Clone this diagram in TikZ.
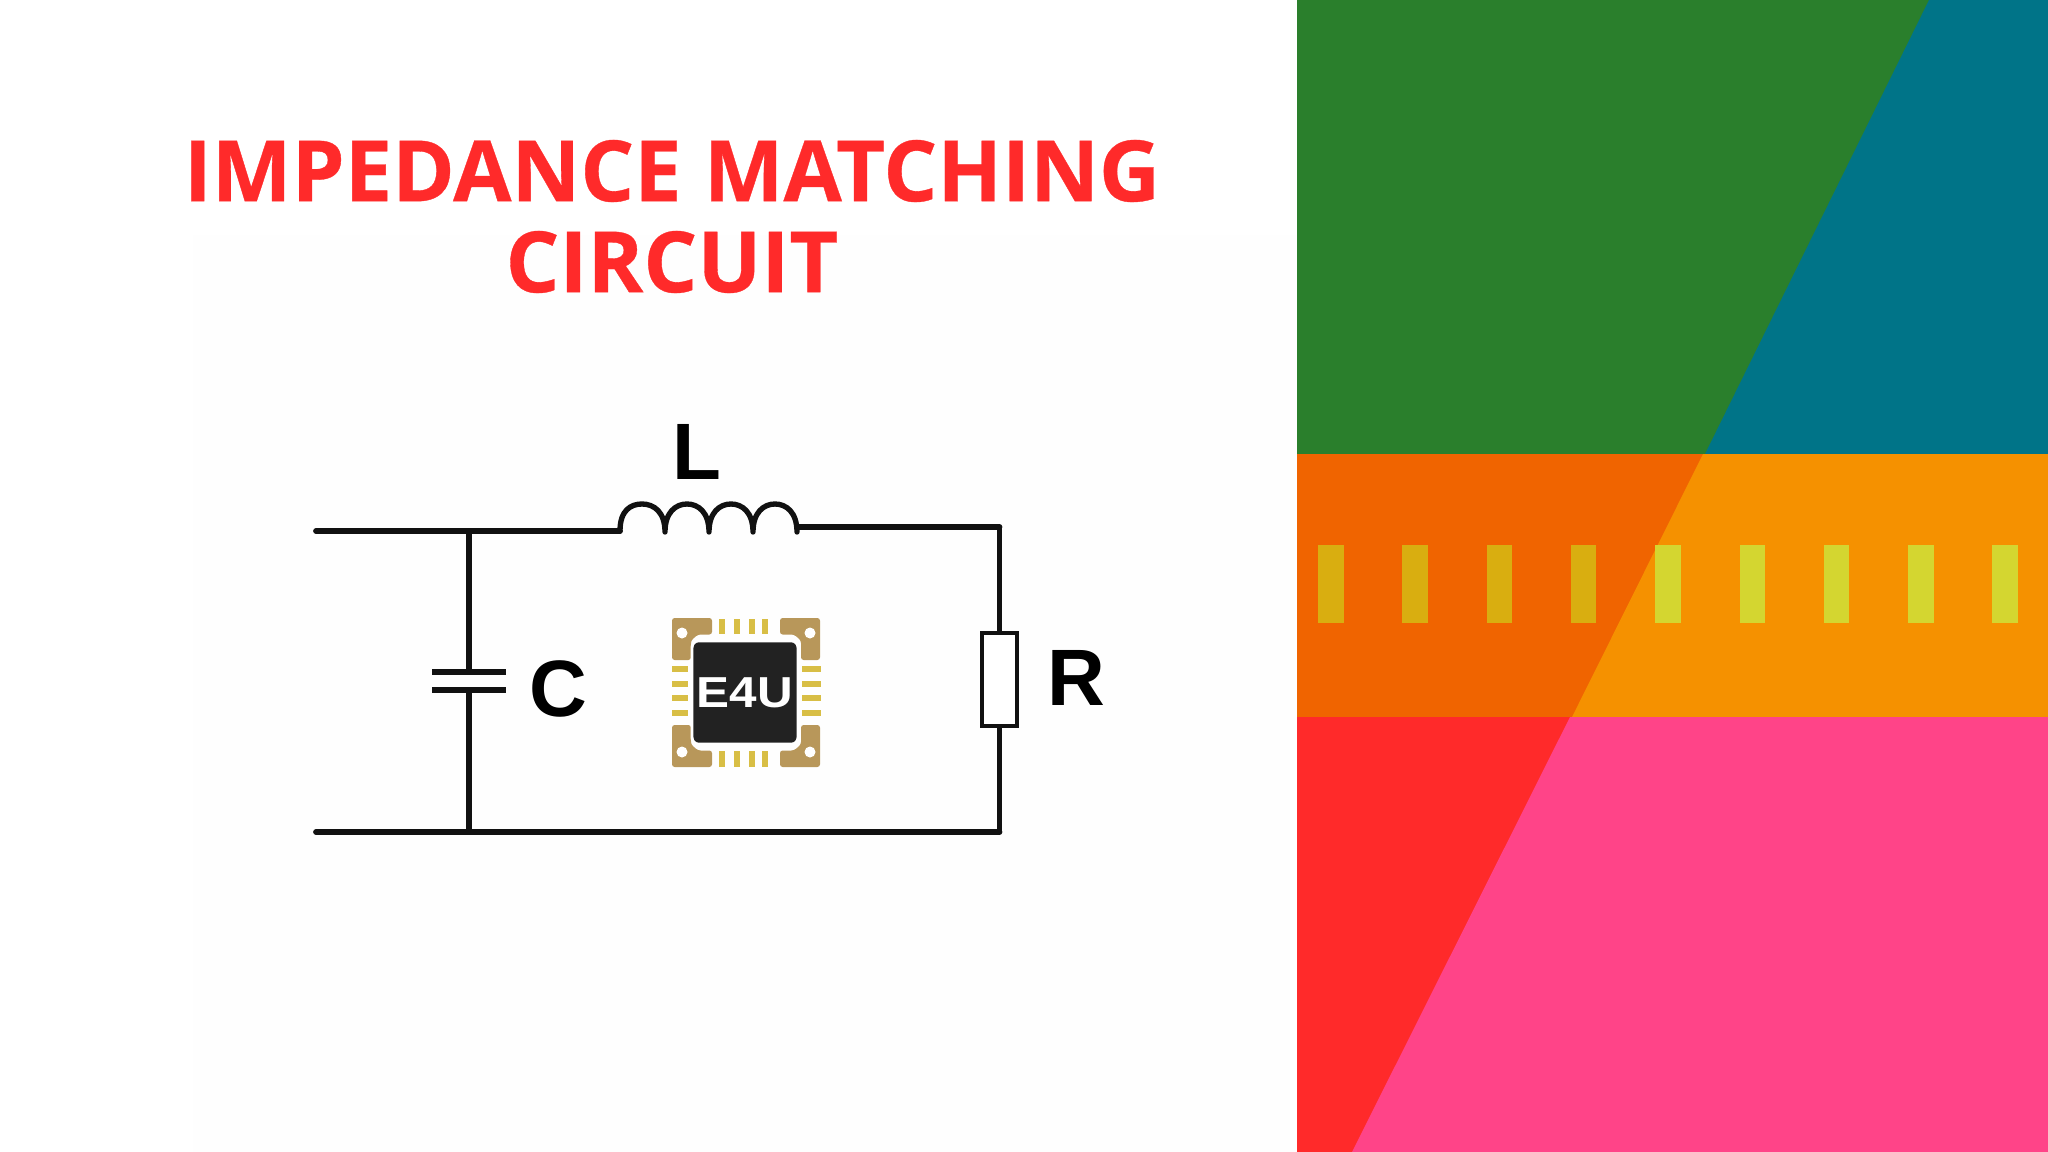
\documentclass[tikz,border=0pt]{standalone}
\usepackage{fontspec}
\setmainfont{Open Sans}
\newfontfamily\titlefont[BoldFeatures={FakeBold=0.4}]{Open Sans}
\newfontfamily\arialish{Liberation Sans}
\definecolor{grn}{HTML}{2A7F2C}
\definecolor{teal2}{HTML}{007488}
\definecolor{dorg}{HTML}{F06400}
\definecolor{lorg}{HTML}{F59100}
\definecolor{redd}{HTML}{FF2A2A}
\definecolor{pnk}{HTML}{FF4488}
\definecolor{barA}{HTML}{D9AE10}
\definecolor{barB}{HTML}{D4D630}
\definecolor{gold}{HTML}{B8975A}
\definecolor{pin}{HTML}{D8BE45}
\definecolor{chipk}{HTML}{222222}
\definecolor{wire}{HTML}{111111}
\definecolor{paper}{HTML}{FEFEFE}
\tikzset{
  wireline/.style={draw=wire,line width=4.3pt,line cap=round,line join=round},
  thinwire/.style={draw=wire,line width=3.8pt},
  titletext/.style={inner sep=0pt,text=redd,font=\titlefont\fontsize{63.5}{63.5}\selectfont\bfseries},
  complabel/.style={inner sep=0pt,text=black,font=\arialish\fontsize{60}{60}\selectfont\bfseries},
  pad/.style={fill=gold,draw=none},
  pinbar/.style={fill=pin,draw=none},
}
\begin{document}
\begin{tikzpicture}[x=0.75pt,y=-0.75pt]
\useasboundingbox (0,0) rectangle (2048,1152);
\fill[white] (0,0) rectangle (2048,1152);
\fill[paper] (193,235) rectangle (1297,1152);
% right panel
\fill[grn] (1297,0) rectangle (2048,454);
\fill[teal2] (1929,0) -- (2048,0) -- (2048,454) -- (1705,454) -- cycle;
\fill[dorg] (1297,454) rectangle (2048,717);
\fill[lorg] (1703,454) -- (2048,454) -- (2048,717) -- (1572,717) -- cycle;
\fill[redd] (1297,717) rectangle (2048,1152);
\fill[pnk] (1570,717) -- (2048,717) -- (2048,1152) -- (1352,1152) -- cycle;
\foreach \i in {0,1,2,3}{\fill[barA] ({1318+84.3*\i},545) rectangle ++(25.5,78);}
\foreach \i in {4,...,8}{\fill[barB] ({1318+84.3*\i},545) rectangle ++(25.5,78);}
% title
\node[titletext] (t1) at (672,171) {IMPEDANCE MATCHING};
\node[titletext] (t2) at (672,262) {CIRCUIT};
% circuit terminals and junctions
\coordinate (tl) at (316,531);
\coordinate (jt) at (469,531);
\coordinate (li) at (620,531);
\coordinate (lo) at (797,527);
\coordinate (tr) at (999.5,527);
\coordinate (rtop) at (999.5,631);
\coordinate (rbot) at (999.5,728);
\coordinate (br) at (999.5,832);
\coordinate (jb) at (469,832);
\coordinate (bl) at (316,832);
\coordinate (ct) at (469,672);
\coordinate (cb) at (469,690);
\draw[wireline] (tl) -- (li);
\draw[wireline] (bl) -- (br);
\draw[wireline] (lo) -- (tr);
\draw[thinwire] (jt) -- (ct);
\draw[thinwire] (cb) -- (jb);
\draw[thinwire] (tr) -- (rtop);
\draw[thinwire] (rbot) -- (br);
% inductor
\draw[draw=wire,line width=4pt,line cap=round]
  (li) .. controls (620,510) and (631,504) .. (642,504) .. controls (654,504) and (665,512) .. (665,532)
  (665,532) .. controls (665,512) and (676,504) .. (687,504) .. controls (698,504) and (709,512) .. (709,532)
  (709,532) .. controls (709,512) and (720,504) .. (731,504) .. controls (742,504) and (753,512) .. (753,532)
  (753,532) .. controls (753,512) and (764,504) .. (775,504) .. controls (786,504) and (797,512) .. (797,532);
% capacitor
\draw[wireline,line cap=butt] (432,672) -- (506,672);
\draw[wireline,line cap=butt] (432,690) -- (506,690);
% resistor
\node[draw=wire,line width=3.4pt,fill=white,minimum width=26.5pt,inner sep=0pt,minimum height=70pt] (res) at (999.5,679.5) {};
% labels
\node[complabel] (lL) at (697,451.5) {L};
\node[complabel] (lC) at (558,688.5) {C};
\node[complabel] (lR) at (1076,678) {R};
% chip
\foreach \sx/\sy in {1/1,-1/1,1/-1,-1/-1}{
  \begin{scope}[shift={(746,692.5)},xscale=\sx,yscale=\sy]
    \fill[pad,rounded corners=2pt] (-74,-74.5) -- (-34,-74.5) -- (-34,-58) -- (-48,-58) -- (-55,-52) -- (-55,-32.5) -- (-74,-32.5) -- cycle;
    \fill[white] (-64,-59.5) circle (5.5);
  \end{scope}
}
\foreach \x in {722,737,752,765}{
  \fill[pinbar] (\x-3,619) rectangle (\x+3,634);
  \fill[pinbar] (\x-3,751) rectangle (\x+3,767);
}
\foreach \y in {669,684,698,713}{
  \fill[pinbar] (672,\y-3) rectangle (688,\y+3);
  \fill[pinbar] (802,\y-3) rectangle (821,\y+3);
}
\node[fill=chipk,draw=white,line width=2.2pt,rounded corners=5pt,minimum width=79.5pt,minimum height=77.5pt,inner sep=0pt] (chip) at (745,692.5) {};
\node[inner sep=0pt,text=white,xscale=1.14,font=\arialish\fontsize{32.5}{32.5}\selectfont\bfseries] (chiplabel) at (745,692.5) {E4U};
\end{tikzpicture}
\end{document}
